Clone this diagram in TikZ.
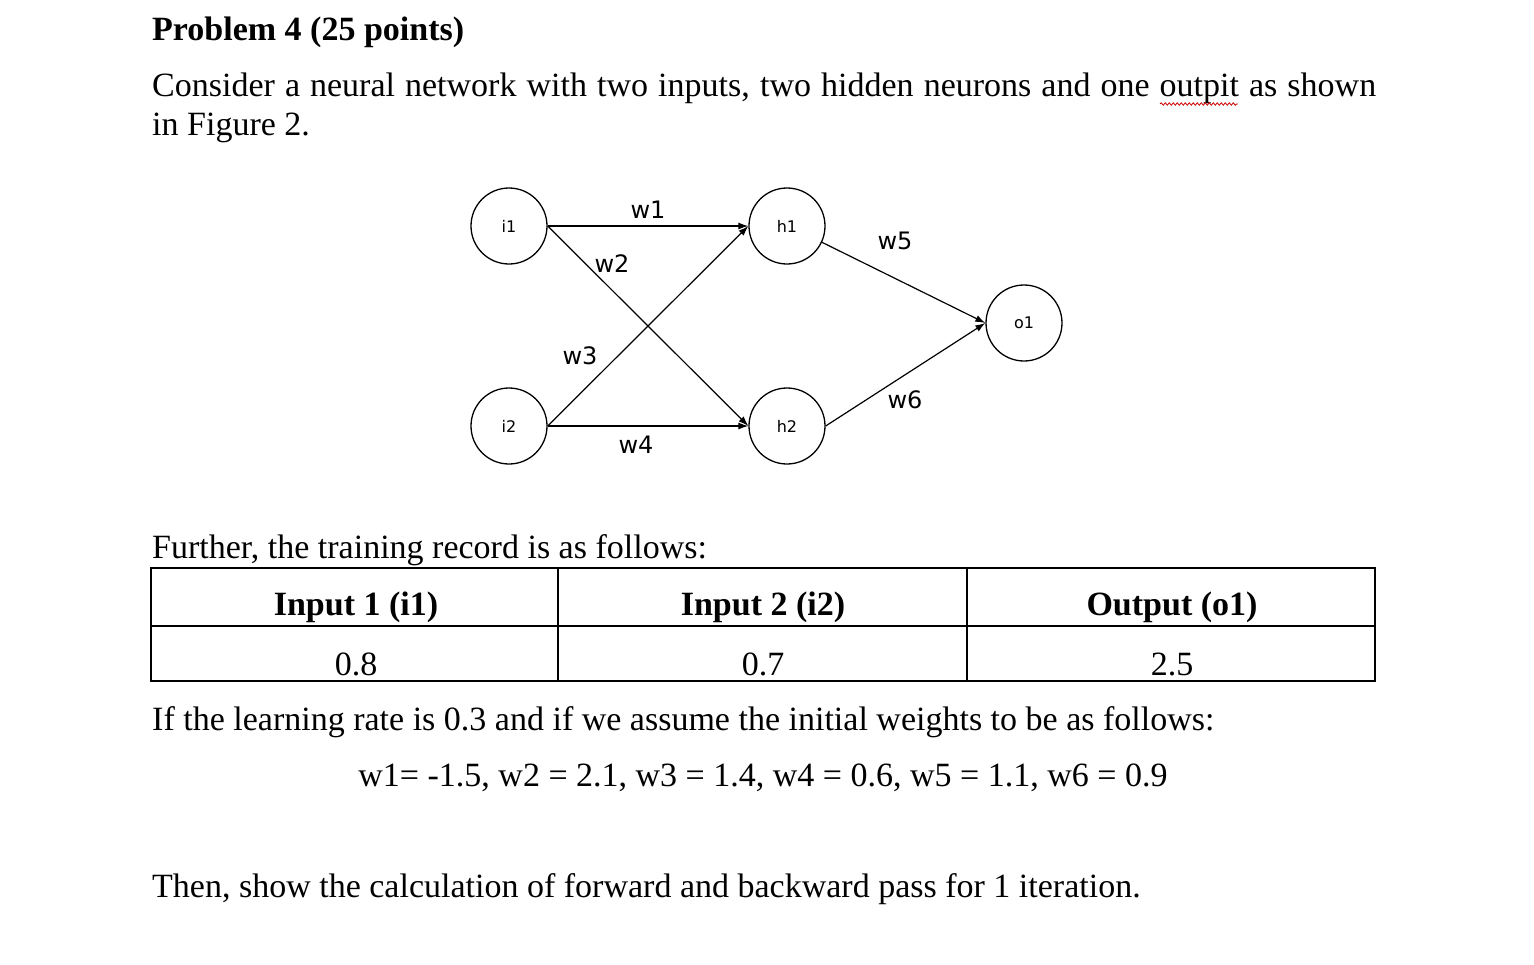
\documentclass[tikz,border=0pt]{standalone}
\usepackage{fontspec}
\setmainfont{Liberation Serif}
\newfontfamily\diafont{DejaVu Sans}
\usetikzlibrary{arrows.meta,decorations.pathmorphing}
\begin{document}
\begin{tikzpicture}[x=1pt,y=-1pt,
  txt/.style={anchor=west,inner sep=0,font=\fontsize{34}{40}\selectfont},
  neuron/.style={circle,draw,line width=1.3pt,minimum size=76pt,inner sep=0,font=\diafont\fontsize{16}{18}\selectfont},
  wl/.style={inner sep=0,font=\diafont\fontsize{24}{28}\selectfont},
  conn/.style={line width=1.2pt,-{Latex[length=10pt,width=7pt]}},
  cell/.style={inner sep=0,font=\fontsize{34}{40}\selectfont}]
\useasboundingbox (0,0) rectangle (1534,964);
\node[txt,font=\bfseries\fontsize{34}{40}\selectfont] (t0) at (152,32) {Problem 4 (25 points)};
\node[txt] (t1) at (152,88) {\makebox[1224pt][s]{Consider a neural network with two inputs, two hidden neurons and one outpit as shown}};
\node[txt] (t2) at (152,128) {in Figure 2.};
\draw[red!80!black,line width=0.8pt,decorate,decoration={snake,amplitude=1.2pt,segment length=4pt}] (1160,104) -- (1238,104);
% network
\node[neuron] (i1) at (509,226) {i1};
\node[neuron] (h1) at (787,226) {h1};
\node[neuron] (o1) at (1024,323) {o1};
\node[neuron] (i2) at (509,426) {i2};
\node[neuron] (h2) at (787,426) {h2};
\draw[conn] (i1.east) -- (h1.west);
\draw[conn] (i1.east) -- (h2.west);
\draw[conn] (i2.east) -- (h1.west);
\draw[conn] (i2.east) -- (h2.west);
\draw[conn] (h1.-25) -- (o1.west);
\draw[conn] (h2.east) -- (o1.west);
\node[wl] (w1) at (648,210) {w1};
\node[wl] (w2) at (612,264) {w2};
\node[wl] (w3) at (580,356) {w3};
\node[wl] (w4) at (636,445) {w4};
\node[wl] (w5) at (895,241) {w5};
\node[wl] (w6) at (905,400) {w6};
% table
\node[txt] (t3) at (152,550) {Further, the training record is as follows:};
\draw[line width=1.2pt] (151,568) rectangle (1375,681);
\draw[line width=1.2pt] (151,626) -- (1375,626) (558,568) -- (558,681) (967,568) -- (967,681);
\node[cell,font=\bfseries\fontsize{34}{40}\selectfont] (c1) at (356,607) {Input 1 (i1)};
\node[cell,font=\bfseries\fontsize{34}{40}\selectfont] (c2) at (763,607) {Input 2 (i2)};
\node[cell,font=\bfseries\fontsize{34}{40}\selectfont] (c3) at (1172,607) {Output (o1)};
\node[cell] (d1) at (356,664) {0.8};
\node[cell] (d2) at (763,664) {0.7};
\node[cell] (d3) at (1172,664) {2.5};
\node[txt] (t4) at (152,722) {If the learning rate is 0.3 and if we assume the initial weights to be as follows:};
\node[cell] (t5) at (763,778) {w1= -1.5, w2 = 2.1, w3 = 1.4, w4 = 0.6, w5 = 1.1, w6 = 0.9};
\node[txt] (t6) at (152,889) {Then, show the calculation of forward and backward pass for 1 iteration.};
\end{tikzpicture}
\end{document}
